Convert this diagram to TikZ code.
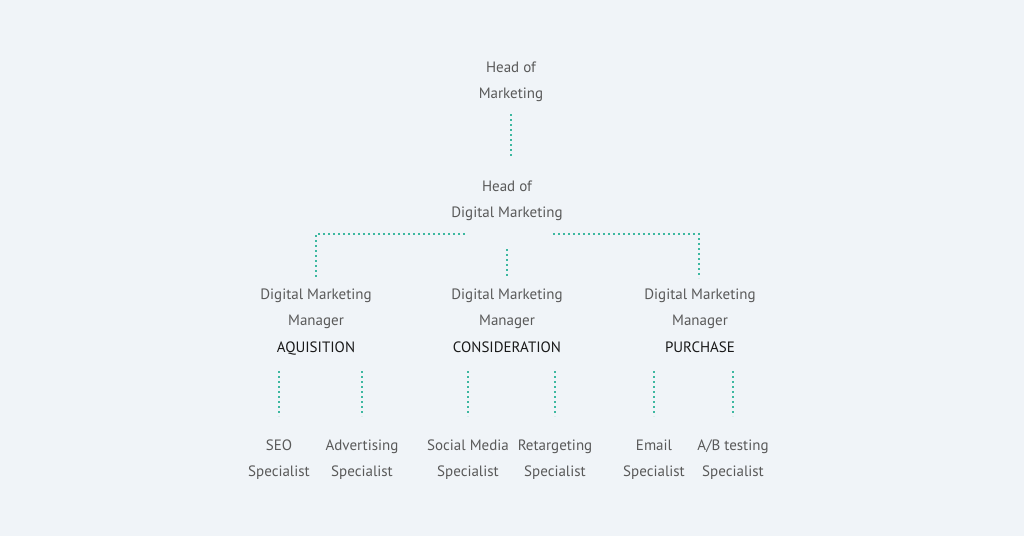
\documentclass[tikz,border=0pt]{standalone}
\usepackage{fontspec}
\setmainfont{PT Sans}
\begin{document}
\begin{tikzpicture}[x=1pt,y=-1pt,
  lbl/.style={text=black!65,font=\fontsize{15}{26}\selectfont,align=center,inner sep=0pt},
  capword/.style={text=black!90,font=\fontsize{15}{26}\selectfont,inner sep=0pt,anchor=base},
  dotl/.style={draw={rgb,255:red,60;green,184;blue,160},line width=2pt,dash pattern=on 2pt off 3pt}]
\fill[fill={rgb,255:red,240;green,244;blue,248}] (0,0) rectangle (1024,536);
\useasboundingbox (0,0) rectangle (1024,536);
\node[lbl] (hm) at (511,82) {Head of\\Marketing};
\node[lbl] (hdm) at (507,201) {Head of\\Digital Marketing};
\foreach \n/\x/\c in {a/316/AQUISITION,c/507/CONSIDERATION,p/700/PURCHASE}{
  \node[lbl] (m\n) at (\x,309) {Digital Marketing\\Manager};
  \node[capword] (k\n) at (\x,352) {\c};
}
\foreach \n/\x/\t in {s1/279/SEO,s2/362/Advertising,s3/468/Social Media,s4/555/Retargeting,s5/654/Email,s6/733/{A/B testing}}{
  \node[lbl] (\n) at (\x,460) {\t\\Specialist};
  \draw[dotl] (\x,371) -- (\x,416);
}
\coordinate (t1) at (511,114); \coordinate (t2) at (511,158);
\draw[dotl] (t1) -- (t2);
\draw[dotl] (465,234) -- (316,234) -- (316,278);
\draw[dotl] (553,234) -- (699,234) -- (699,278);
\draw[dotl] (507,249) -- (507,278);
\end{tikzpicture}
\end{document}
